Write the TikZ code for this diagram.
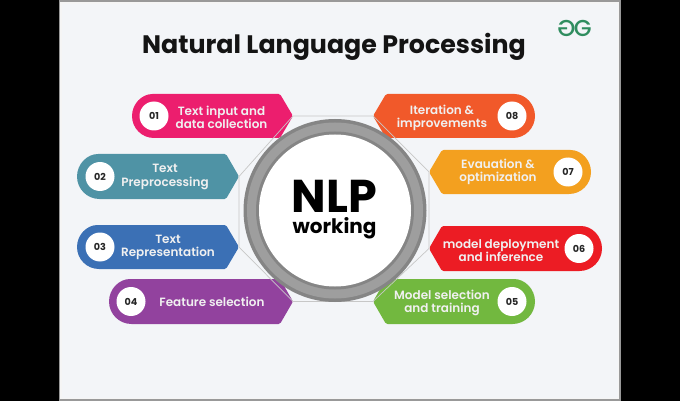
\documentclass[tikz,border=0pt]{standalone}
\usepackage{fontspec}
\setmainfont{Poppins}
\newfontfamily\popm{Poppins Medium}
\newfontfamily\pops{Poppins SemiBold}
\usetikzlibrary{calc}
\definecolor{pagebg}{HTML}{F3F5F8}
\definecolor{cpink}{HTML}{EC1E6E}
\definecolor{cteal}{HTML}{4F93A5}
\definecolor{cblue}{HTML}{3B70B5}
\definecolor{cpurple}{HTML}{92429E}
\definecolor{corange}{HTML}{F1592A}
\definecolor{camber}{HTML}{F3A01F}
\definecolor{cred}{HTML}{EC1C24}
\definecolor{cgreen}{HTML}{72B83F}
\definecolor{cgfg}{HTML}{2F8D5F}
\tikzset{
  pilltext/.style={text=white!94!black,font=\fontsize{12}{13.2}\selectfont\pops,align=center,inner sep=0pt},
  numdisc/.style={circle,fill=white,minimum size=29pt,inner sep=0pt,font=\fontsize{9.6}{10}\selectfont\bfseries,text=black!85},
  octline/.style={draw=black!22,line width=0.7pt},
  pillshape/.style={rounded corners=1.5pt},
}
% #1 colour, #2 name, #3 left end, #4 right tip, #5 top, #6 bottom
\newcommand{\leftpill}[6]{%
  \pgfmathsetmacro{\mid}{(#5+#6)/2}\pgfmathsetmacro{\rad}{(#6-#5)/2}
  \coordinate (#2) at (#4,\mid);
  \fill[#1,pillshape] (#4,\mid) -- (#4-13,#5) -- (#3+\rad,#5) {[sharp corners] arc[start angle=-90,end angle=-270,radius=\rad]} -- (#4-13,#6) -- cycle;
}
\newcommand{\rightpill}[6]{%
  \pgfmathsetmacro{\mid}{(#5+#6)/2}\pgfmathsetmacro{\rad}{(#6-#5)/2}
  \coordinate (#2) at (#3,\mid);
  \fill[#1,pillshape] (#3,\mid) -- (#3+13,#5) -- (#4-\rad,#5) {[sharp corners] arc[start angle=-90,end angle=90,radius=\rad]} -- (#3+13,#6) -- cycle;
}
\begin{document}
\begin{tikzpicture}[x=1pt,y=-1pt]
\useasboundingbox (0,0) rectangle (680,401);
\fill[black] (0,0) rectangle (680,401);
\fill[black!40] (58.5,0) rectangle (620.5,401);
\fill[white!96!black] (60,2) rectangle (619,398.5);
\fill[pagebg] (62,4) rectangle (618,398);

\node[font=\fontsize{25.3}{28}\selectfont\bfseries,text=black!92,inner sep=0pt] (title) at (334,47) {Natural Language Processing};

% logo
\node[font=\fontsize{23}{23}\selectfont\popm,text=cgfg,inner sep=0pt] (logo) at (574.5,28.5) {\scalebox{-1}[1]{G}\kern-1.5ptG};

\leftpill{cpink}{t1}{132}{293}{94}{138}
\leftpill{cteal}{t2}{77}{239}{154}{199}
\leftpill{cblue}{t3}{77}{239}{225}{269}
\leftpill{cpurple}{t4}{109}{293}{279}{324}
\rightpill{corange}{t8}{373}{535}{94}{138}
\rightpill{camber}{t7}{429}{591}{150}{194}
\rightpill{cred}{t6}{429}{602}{226}{271}
\rightpill{cgreen}{t5}{373}{535}{279}{324}

% octagon through the pill tips
\draw[octline] (t1) -- (t8) -- (t7) -- (t6) -- (t5) -- (t4) -- (t3) -- (t2) -- cycle;

% hub
\node[circle,fill=black!48,minimum size=183pt,inner sep=0pt] (ring) at (335,210.5) {};
\node[circle,fill=black!38,minimum size=176pt,inner sep=0pt] (ringb) at (ring) {};
\node[circle,fill=black!48,minimum size=158pt,inner sep=0pt] (ringc) at (ring) {};
\node[circle,fill=white,minimum size=152pt,inner sep=0pt] (hub) at (ring) {};
\node[align=center,inner sep=0pt,text=black,anchor=base] (nlp) at (334.5,233.5) {\fontsize{46}{46}\selectfont\bfseries NLP\\[3.5pt]\fontsize{20}{20}\selectfont\bfseries working};

\node[numdisc] (n1) at (154,116) {01};
\node[numdisc] (n2) at (100,176.5) {02};
\node[numdisc] (n3) at (100,247) {03};
\node[numdisc] (n4) at (131,301.5) {04};
\node[numdisc] (n8) at (512,116) {08};
\node[numdisc] (n7) at (568,172) {07};
\node[numdisc] (n6) at (579,248.5) {06};
\node[numdisc] (n5) at (512,301.5) {05};

\node[pilltext] (l1) at (221.5,117.5) {Text input and\\data collection};
\node[pilltext] (l2) at (165,177) {Text\\Preprocessing};
\node[pilltext] (l3) at (168,247) {Text\\Representation};
\node[pilltext] (l4) at (212,302) {Feature selection};
\node[pilltext] (l8) at (442,117.5) {Iteration \&\\improvements};
\node[pilltext] (l7) at (498,171.5) {Evauation \&\\optimization};
\node[pilltext] (l6) at (501,250.5) {model deployment\\and inference};
\node[pilltext] (l5) at (442,303) {Model selection\\and training};
\end{tikzpicture}
\end{document}
